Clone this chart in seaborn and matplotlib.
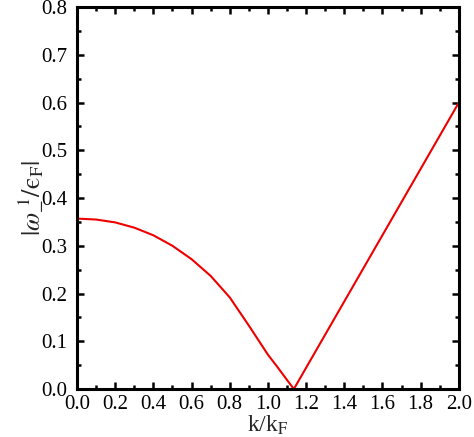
import pandas as pd
import matplotlib
matplotlib.use("Agg")
import matplotlib.pyplot as plt
from matplotlib.ticker import MultipleLocator, FormatStrFormatter
import seaborn as sns

# values
k = [0.0, 0.1, 0.2, 0.3, 0.4, 0.5, 0.6, 0.7, 0.8, 0.9, 1.0, 1.05, 1.1, 1.136, 2.0]
omega = [0.357, 0.355, 0.349, 0.338, 0.322, 0.300, 0.272, 0.237, 0.192,
         0.133, 0.072, 0.046, 0.019, 0.0, 0.6]

df = pd.DataFrame({"k": k, "omega": omega})

sns.set_style("ticks")
plt.rcParams["font.family"] = ["Liberation Serif", "DejaVu Serif"]
plt.rcParams["mathtext.fontset"] = "stix"

fig = plt.figure(figsize=(4.74, 4.37), dpi=100)
ax = fig.add_axes([0.1624, 0.1098, 0.8056, 0.874])

sns.lineplot(data=df, x="k", y="omega", color="#ee0000", linewidth=1.5,
             ax=ax, sort=False)

ax.set_xlim(0, 2)
ax.set_ylim(0, 0.8)
ax.xaxis.set_major_locator(MultipleLocator(0.2))
ax.xaxis.set_minor_locator(MultipleLocator(0.1))
ax.yaxis.set_major_locator(MultipleLocator(0.1))
ax.yaxis.set_minor_locator(MultipleLocator(0.05))
ax.xaxis.set_major_formatter(FormatStrFormatter("%.1f"))
ax.yaxis.set_major_formatter(FormatStrFormatter("%.1f"))

ax.tick_params(which="both", direction="in", top=True, right=True,
               labelsize=15, width=1.8, colors="black")
ax.tick_params(axis="x", pad=4)
ax.tick_params(axis="y", pad=7)
ax.tick_params(which="major", length=5)
ax.tick_params(which="minor", length=3)
for s in ax.spines.values():
    s.set_linewidth(2.2)
    s.set_color("black")

ax.set_xlabel(r"k/k$_{\rm F}$", fontsize=17, labelpad=0)
ax.set_ylabel("$|\\omega_{-}^{\\ 1}/\\mathrm{\u03f5}_{\\mathrm{F}}|$", fontsize=19, labelpad=-1)

fig.savefig("out.png", dpi=100)
